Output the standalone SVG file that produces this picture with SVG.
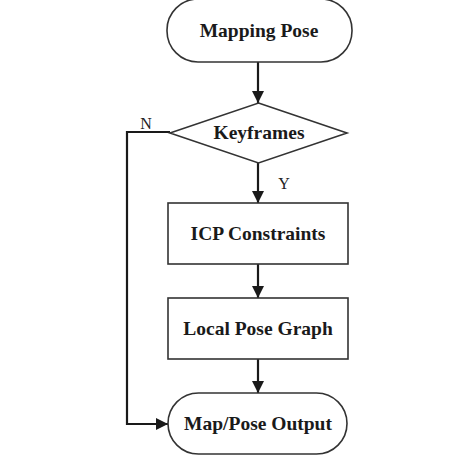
<svg xmlns="http://www.w3.org/2000/svg" width="474" height="474" viewBox="0 0 474 474">
<defs>
<style>
.shape{fill:#fff;stroke:#333;stroke-width:1.6}
.lbl{font-family:"Liberation Serif","Times New Roman",serif;font-weight:bold;font-size:19.5px;fill:#1a1a1a;text-anchor:middle}
.yn{font-family:"Liberation Serif","Times New Roman",serif;font-size:16px;fill:#222;text-anchor:middle}
.conn{fill:none;stroke:#1a1a1a;stroke-width:2.2}
</style>
<marker id="ah" viewBox="0 0 10 10" refX="10" refY="5" markerWidth="5.5" markerHeight="5.5" markerUnits="strokeWidth" orient="auto">
<path d="M0,0 L10,5 L0,10 z" fill="#1a1a1a"/>
</marker>
</defs>
<rect width="474" height="474" fill="#fff"/>
<g id="connectors">
<line class="conn" x1="258" y1="62" x2="258" y2="103" marker-end="url(#ah)"/>
<line class="conn" x1="258" y1="163" x2="258" y2="203" marker-end="url(#ah)"/>
<line class="conn" x1="258" y1="264" x2="258" y2="298" marker-end="url(#ah)"/>
<line class="conn" x1="258" y1="359" x2="258" y2="393" marker-end="url(#ah)"/>
<polyline class="conn" points="170,132 127,132 127,424 168,424" marker-end="url(#ah)"/>
<text class="yn" x="146" y="129">N</text>
<text class="yn" x="284" y="189">Y</text>
</g>
<g id="mapping-pose">
<rect class="shape" x="167" y="-1" width="185" height="63" rx="31" ry="31"/>
<text class="lbl" x="259" y="37">Mapping Pose</text>
</g>
<g id="keyframes">
<polygon class="shape" points="258.5,103 347,133 258.5,163 170,133"/>
<text class="lbl" x="259" y="139">Keyframes</text>
</g>
<g id="icp-constraints">
<rect class="shape" x="168" y="203" width="180" height="61"/>
<text class="lbl" x="258" y="240">ICP Constraints</text>
</g>
<g id="local-pose-graph">
<rect class="shape" x="168" y="298" width="180" height="61"/>
<text class="lbl" x="258" y="335">Local Pose Graph</text>
</g>
<g id="map-pose-output">
<rect class="shape" x="168" y="393" width="179" height="61" rx="30.5" ry="30.5"/>
<text class="lbl" x="258" y="430">Map/Pose Output</text>
</g>
</svg>
